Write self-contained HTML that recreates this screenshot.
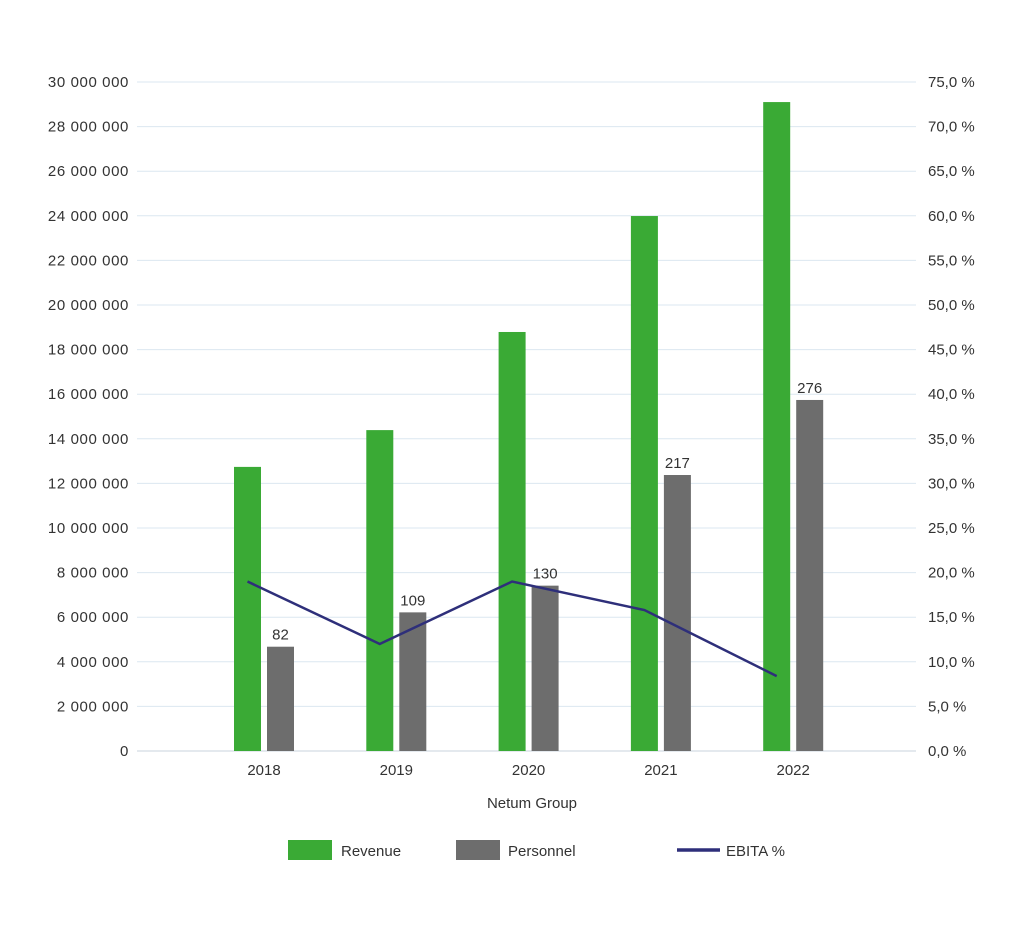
<!DOCTYPE html>
<html><head><meta charset="utf-8"><style>
body{margin:0;background:#fff;}
svg text{font-family:"Liberation Sans",sans-serif;fill:#333;}
</style></head><body>
<svg id="chart" width="1024" height="934" xmlns="http://www.w3.org/2000/svg">
<g id="grid"></g><g id="axes"></g><g id="bars"></g><g id="line"></g>
<g>
<rect x="288" y="840" width="44" height="20" fill="#3aaa35"/>
<text x="341" y="856" font-size="15">Revenue</text>
<rect x="456" y="840" width="44" height="20" fill="#6d6d6d"/>
<text x="508" y="856" font-size="15">Personnel</text>
<line x1="677" y1="850" x2="720" y2="850" stroke="#2e2f7a" stroke-width="3.5"/>
<text x="726" y="856" font-size="15">EBITA %</text>
</g>
<text x="532" y="808" font-size="15" text-anchor="middle">Netum Group</text>
</svg>
<script>
const categories=["2018","2019","2020","2021","2022"];
const revenue=[12740000,14390000,18790000,23990000,29100000];
const personnel=[82,109,130,217,276];
const ebita=[19.0,12.0,19.0,15.8,8.4];
const leftTicks=[0,2000000,4000000,6000000,8000000,10000000,12000000,14000000,16000000,18000000,20000000,22000000,24000000,26000000,28000000,30000000];
const rightTicks=[0,5,10,15,20,25,30,35,40,45,50,55,60,65,70,75];

const NS="http://www.w3.org/2000/svg";
const Y0=751,Y1=82;
const yL=v=>Y0-(v/30000000)*(Y0-Y1);
const yR=v=>Y0-(v/75)*(Y0-Y1);
const yP=v=>Y0-(v/526)*(Y0-Y1);
const band=132.3,x0=197.85;
const xc=i=>x0+band*(i+0.5);
function mk(tag,attrs,parent){const e=document.createElementNS(NS,tag);for(const k in attrs)e.setAttribute(k,attrs[k]);document.getElementById(parent).appendChild(e);return e;}
const fmt=v=>v===0?"0":v.toString().replace(/\B(?=(\d{3})+(?!\d))/g," ");
leftTicks.forEach((t,i)=>{
 const y=yL(t);
 const g=mk("line",{x1:137,x2:916,y1:y,y2:y,stroke:i===0?"#c8d3dc":"#dbe7f0","stroke-width":1},"grid");
 
 
 const l=mk("text",{x:129,y:y+5,"font-size":15,"text-anchor":"end","letter-spacing":"0.6"},"axes");l.textContent=fmt(t);
 
 
});
rightTicks.forEach(t=>{
 const l=mk("text",{x:928,y:yR(t)+5,"font-size":15},"axes");l.textContent=t.toFixed(1).replace(".",",")+" %";
 
 
});
categories.forEach((c,i)=>{
 const cx=xc(i);
 const l=mk("text",{x:cx,y:775,"font-size":15,"text-anchor":"middle"},"axes");l.textContent=c;
 
 
 const r=mk("rect",{x:cx-30,y:yL(revenue[i]),width:27,height:Y0-yL(revenue[i]),fill:"#3aaa35"},"bars");
 
 
 const p=mk("rect",{x:cx+3,y:yP(personnel[i]),width:27,height:Y0-yP(personnel[i]),fill:"#6d6d6d"},"bars");
 
 
 const pl=mk("text",{x:cx+16.5,y:yP(personnel[i])-7,"font-size":15,"text-anchor":"middle"},"bars");pl.textContent=personnel[i];
 
 
});
const pts=ebita.map((v,i)=>(xc(i)-16.5)+","+yR(v)).join(" ");
const pl=mk("polyline",{points:pts,fill:"none",stroke:"#2e2f7a","stroke-width":2.5},"line");


</script>
</body></html>
